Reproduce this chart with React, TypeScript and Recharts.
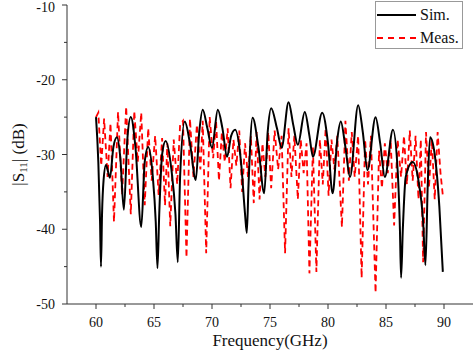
import { LineChart, Line, XAxis, YAxis } from 'recharts';

// Simulated |S11| (black solid)
const simFreq = [
  60.0, 60.2, 60.35, 60.43, 60.52, 60.65, 60.86, 61.2, 61.5, 61.8, 62.1, 62.4, 62.7, 63.0, 63.4, 63.9,
  64.2, 64.5, 64.9, 65.15, 65.3, 65.45, 65.7, 66.0, 66.5, 66.85, 67.05, 67.25, 67.65, 68.1, 68.6, 68.9,
  69.2, 69.6, 70.0, 70.5, 70.9, 71.3, 71.65, 72.0, 72.5, 72.85, 73.0, 73.15, 73.5, 74.0, 74.5, 74.8,
  75.1, 75.6, 76.0, 76.6, 77.0, 77.4, 78.0, 78.4, 78.7, 79.5, 80.0, 80.4, 80.8, 81.1, 81.5, 81.9,
  82.6, 83.0, 83.4, 84.1, 84.5, 84.9, 85.6, 86.0, 86.2, 86.3, 86.45, 86.7, 87.3, 87.8, 88.2, 88.4,
  88.6, 88.8, 89.2, 89.6, 89.9,
];
const simDb = [
  -25.0, -31, -39, -45.0, -38, -33.5, -31.4, -33.1, -29, -27.7, -30.5, -37.4, -28, -25.0, -29, -39.7,
  -31, -29.0, -33, -39, -45.2, -38, -30, -28.2, -32, -38, -44.4, -33, -25.6, -28.5, -33.4, -27,
  -24.0, -26.5, -29.1, -24.0, -26.5, -30.3, -27.5, -26.7, -31, -38, -40.5, -34, -25.1, -29, -35.2, -27,
  -23.8, -26.5, -29.1, -23.0, -26, -28.7, -24.3, -27.5, -30.3, -24.4, -28.5, -35.2, -28, -25.6, -29, -33.0,
  -23.4, -27, -32.1, -25.0, -28.5, -33.0, -26.7, -32, -40, -46.5, -40, -33, -31.0, -33.5, -39, -44.8,
  -34, -27.7, -30, -37, -45.7,
];

// Measured |S11| (red dashed)
const measFreq = [
  60.0, 60.2, 60.45, 60.7, 61.0, 61.25, 61.55, 61.9, 62.25, 62.6, 63.0, 63.3, 63.6, 63.9, 64.2, 64.5,
  64.8, 65.1, 65.4, 65.7, 65.95, 66.15, 66.4, 66.7, 67.0, 67.25, 67.5, 67.8, 68.1, 68.4, 68.7, 69.0,
  69.2, 69.5, 69.8, 70.1, 70.35, 70.6, 70.85, 71.1, 71.35, 71.6, 71.85, 72.1, 72.35, 72.6, 72.85, 73.1,
  73.35, 73.6, 73.85, 74.1, 74.35, 74.6, 74.85, 75.1, 75.4, 75.7, 76.0, 76.3, 76.6, 76.85, 77.1, 77.4,
  77.65, 77.9, 78.15, 78.4, 78.7, 79.0, 79.3, 79.55, 79.8, 80.05, 80.3, 80.55, 80.8, 81.2, 81.5, 81.8,
  82.05, 82.3, 82.6, 82.9, 83.2, 83.45, 83.7, 84.1, 84.4, 84.65, 84.9, 85.15, 85.4, 85.7, 86.0, 86.3,
  86.55, 86.8, 87.05, 87.3, 87.55, 87.8, 88.0, 88.2, 88.45, 88.7, 88.95, 89.2, 89.45, 89.7, 89.9,
];
const measDb = [
  -25.0, -24.4, -31.5, -25.2, -33.0, -25.8, -39.0, -24.3, -35.4, -23.6, -38.0, -24.2, -31.0, -24.4, -36.8, -26.5,
  -33.5, -27.5, -35.4, -27.8, -36.8, -28.5, -39.6, -28.0, -34.0, -26.0, -25.5, -43.8, -25.2, -33.0, -26.0, -32.0,
  -25.5, -43.2, -25.0, -30.5, -25.5, -33.5, -27.0, -31.0, -26.5, -34.5, -28.0, -31.5, -26.8, -35.0, -28.5, -33.0,
  -27.5, -36.5, -27.0, -36.0, -28.5, -33.0, -27.0, -34.5, -26.8, -32.0, -27.5, -43.2, -26.5, -33.0, -27.5, -36.0,
  -28.0, -32.5, -28.5, -45.9, -29.0, -45.7, -28.0, -34.0, -26.5, -35.5, -28.0, -32.0, -27.5, -39.7, -25.5, -33.5,
  -27.0, -33.0, -27.5, -46.5, -28.0, -34.0, -27.5, -48.5, -29.5, -34.5, -28.5, -32.5, -28.0, -39.5, -28.0, -33.0,
  -27.5, -34.0, -26.8, -33.5, -27.5, -36.0, -28.0, -44.4, -27.0, -34.5, -28.0, -36.0, -27.0, -32.5, -35.5,
];

const xTicks = [60, 62.5, 65, 67.5, 70, 72.5, 75, 77.5, 80, 82.5, 85, 87.5, 90];
const yTicks = [-50, -45, -40, -35, -30, -25, -20, -15, -10];

const simData = simFreq.map((f, i) => ({ f, v: simDb[i] }));
const measData = measFreq.map((f, i) => ({ f, v: measDb[i] }));

const FONT = '"Liberation Serif", "Times New Roman", serif';
const AXIS = '#333';

function XTick({ x, y, payload }: any) {
  const major = payload.value % 5 === 0;
  return (
    <g>
      <line x1={x} y1={y} x2={x} y2={y + (major ? 5 : 3)} stroke={AXIS} />
      {major && (
        <text x={x} y={y + 23} textAnchor="middle" fontSize={14} fontFamily={FONT} fill="#111">
          {payload.value}
        </text>
      )}
    </g>
  );
}

function YTick({ x, y, payload }: any) {
  const major = payload.value % 10 === 0;
  // keep the top label inside the picture
  const ty = Math.max(y + 5, 12);
  return (
    <g>
      <line x1={x - (major ? 5 : 3)} y1={y} x2={x} y2={y} stroke={AXIS} />
      {major && (
        <text x={x - 12} y={ty} textAnchor="end" fontSize={14} fontFamily={FONT} fill="#111">
          {payload.value}
        </text>
      )}
    </g>
  );
}

function YLabel({ viewBox }: any) {
  const cx = 18;
  const cy = viewBox.y + viewBox.height / 2;
  return (
    <text
      x={cx}
      y={cy}
      transform={`rotate(-90 ${cx} ${cy})`}
      textAnchor="middle"
      dominantBaseline="central"
      fontSize={17}
      fontFamily={FONT}
      fill="#111"
    >
      |S<tspan fontSize={11} dy={5}>11</tspan>
      <tspan dy={-5}>| (dB)</tspan>
    </text>
  );
}

function XLabel({ viewBox }: any) {
  return (
    <text
      x={viewBox.x + viewBox.width / 2}
      y={346}
      textAnchor="middle"
      fontSize={17}
      fontFamily={FONT}
      fill="#111"
    >
      Frequency(GHz)
    </text>
  );
}

function LegendBox() {
  return (
    <svg width={88} height={48} style={{ position: 'absolute', left: 375, top: 1 }}>
      <rect x={0.5} y={0.5} width={87} height={47} fill="#fff" stroke="#999" />
      <line x1={2} y1={14} x2={41} y2={14} stroke="#000" strokeWidth={2} />
      <text x={45} y={19} fontSize={16} fontFamily={FONT} fill="#111">Sim.</text>
      <line x1={2} y1={37} x2={41} y2={37} stroke="#ff0000" strokeWidth={2} strokeDasharray="6 5" />
      <text x={45} y={42} fontSize={16} fontFamily={FONT} fill="#111">Meas.</text>
    </svg>
  );
}

export default function App() {
  return (
    <div style={{ position: 'absolute', left: 0, top: 0, width: 474, height: 353, background: '#fff' }}>
      <LineChart width={474} height={353} margin={{ top: 5, right: 1, bottom: 0, left: 10 }}>
        <XAxis
          type="number"
          dataKey="f"
          domain={[57.5, 92.5]}
          ticks={xTicks}
          interval={0}
          tickSize={0}
          tickMargin={0}
          tick={<XTick />}
          height={49}
          stroke={AXIS}
          allowDataOverflow
          label={<XLabel />}
        />
        <YAxis
          type="number"
          dataKey="v"
          domain={[-50, -10]}
          ticks={yTicks}
          interval={0}
          tickSize={0}
          tickMargin={0}
          tick={<YTick />}
          width={57}
          stroke={AXIS}
          allowDataOverflow
          label={<YLabel />}
        />
        <Line
          data={measData}
          dataKey="v"
          name="Meas."
          type="linear"
          stroke="#ff0000"
          strokeWidth={1.8}
          strokeDasharray="6 4"
          dot={false}
          isAnimationActive={false}
        />
        <Line
          data={simData}
          dataKey="v"
          name="Sim."
          type="monotone"
          stroke="#000"
          strokeWidth={2}
          dot={false}
          isAnimationActive={false}
        />
      </LineChart>
      <LegendBox />
    </div>
  );
}
